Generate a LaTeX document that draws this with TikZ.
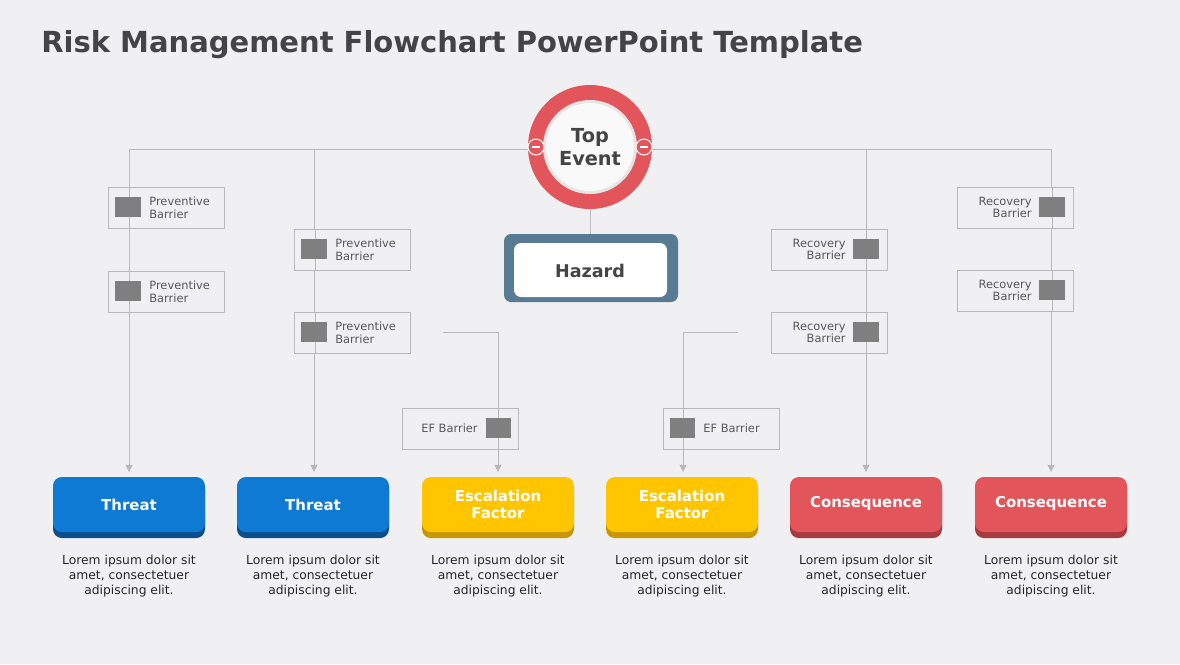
\documentclass[tikz,border=0pt]{standalone}
\usepackage{fontspec}
\setmainfont{DejaVu Sans}
\usetikzlibrary{arrows.meta}
\definecolor{bg}{HTML}{F0F0F2}
\definecolor{ttl}{HTML}{444444}
\definecolor{ln}{HTML}{B8B8BC}
\definecolor{redc}{HTML}{E2555A}
\definecolor{hz}{HTML}{587A92}
\definecolor{bluec}{HTML}{0E7AD4}
\definecolor{blued}{HTML}{0A4F8C}
\definecolor{yelc}{HTML}{FFC600}
\definecolor{yeld}{HTML}{C89600}
\definecolor{redd}{HTML}{A83A3E}
\definecolor{sq}{HTML}{7F7F7F}
\tikzset{
 conn/.style={draw=ln,line width=0.45pt},
 arr/.style={conn,-{Triangle[width=4pt,length=4pt]}},
 barrier/.style={draw=ln,line width=0.5pt,fill=bg},
 btxt/.style={font=\fontsize{6.5}{7.2}\selectfont,text=ttl!90,align=left,inner sep=0},
 sqr/.style={fill=sq},
 boxlbl/.style={font=\fontsize{8.5}{9.5}\selectfont\bfseries,text=white,align=center},
 lorem/.style={font=\fontsize{7}{8.4}\selectfont,text=black!85,align=center},
}
\begin{document}
\begin{tikzpicture}[x=0.02cm,y=-0.02cm]
\fill[bg] (0,0) rectangle (1180,664);
\useasboundingbox (0,0) rectangle (1180,664);
\node[anchor=west,font=\fontsize{16.5}{18}\selectfont\bfseries,text=ttl,inner sep=0] (title) at (41,45) {Risk Management Flowchart PowerPoint Template};
% connectors
\coordinate (L1) at (129,149); \coordinate (L2) at (314,149);
\coordinate (R1) at (866,149); \coordinate (R2) at (1051,149);
\draw[conn] (L1) -- (R2);
\draw[arr] (L1) -- (129,472);
\draw[arr] (L2) -- (314,472);
\draw[arr] (R1) -- (866,472);
\draw[arr] (R2) -- (1051,472);
\draw[arr] (443,332) -- (498,332) -- (498,472);
\draw[arr] (738,332) -- (683,332) -- (683,472);
\draw[conn] (590,209) -- (590,236);
% top event
\node[circle,fill=redc,minimum size=124*0.02cm,inner sep=0] (top) at (590,147) {};
\fill[white!80!gray] (top.center) circle[radius=47*0.02cm];
\fill[white!95!gray] (top.center) circle[radius=44*0.02cm];
\node[font=\fontsize{11}{13}\selectfont\bfseries,text=ttl,align=center] (toptxt) at (590,147) {Top\\Event};
\foreach \x in {536,644}{\fill[redc,draw=white,line width=0.6pt] (\x,147) circle[radius=8*0.02cm]; \draw[white,line width=0.8pt] (\x-4,147) -- (\x+4,147);}
% hazard
\fill[hz,rounded corners=4pt] (504,234) rectangle (678,302);
\fill[white,rounded corners=4pt] (514,243) rectangle (667,297);
\node[font=\fontsize{10}{12}\selectfont\bfseries,text=ttl] (hazard) at (590,271) {Hazard};
% preventive barriers
\foreach \bx/\by/\nm in {108/187/p1,108/271/p2,294/229/p3,294/312/p4}{
 \draw[barrier] (\bx,\by) rectangle (\bx+116,\by+41);
 \draw[conn] (\bx+21,\by) -- (\bx+21,\by+41);
 \fill[sqr] (\bx+7,\by+10) rectangle (\bx+33,\by+30);
 \node[btxt,anchor=west] (\nm) at (\bx+41,\by+20.5) {Preventive\\Barrier};
}
\foreach \bx/\by/\nm in {957/187/r1,957/270/r2,771/229/r3,771/312/r4}{
 \draw[barrier] (\bx,\by) rectangle (\bx+116,\by+41);
 \draw[conn] (\bx+95,\by) -- (\bx+95,\by+41);
 \fill[sqr] (\bx+82,\by+10) rectangle (\bx+108,\by+30);
 \node[btxt,anchor=east,align=right] (\nm) at (\bx+75,\by+20.5) {Recovery\\Barrier};
}
% EF barriers
\draw[barrier] (402,408) rectangle (518,449);
\draw[conn] (498,408) -- (498,449);
\fill[sqr] (486,418) rectangle (511,438);
\node[btxt,anchor=east] (ef1) at (478,428.5) {EF Barrier};
\draw[barrier] (663,408) rectangle (779,449);
\draw[conn] (683,408) -- (683,449);
\fill[sqr] (670,418) rectangle (695,438);
\node[btxt,anchor=west] (ef2) at (703,428.5) {EF Barrier};
% bottom boxes
\foreach \x/\c/\d/\t/\nm in {53/bluec/blued/Threat/b1,237/bluec/blued/Threat/b2,422/yelc/yeld/{Escalation\\Factor}/b3,606/yelc/yeld/{Escalation\\Factor}/b4,790/redc/redd/{Consequence\strut}/b5,975/redc/redd/{Consequence\strut}/b6}{
 \fill[\d,rounded corners=5pt] (\x,482) rectangle (\x+152,538);
 \fill[\c,rounded corners=5pt] (\x,477) rectangle (\x+152,532);
 \node[boxlbl] (\nm) at (\x+76,504.5) {\t};
 \node[lorem] at (\x+76,576) {Lorem ipsum dolor sit\\amet, consectetuer\\adipiscing elit.};
}
\end{tikzpicture}
\end{document}
